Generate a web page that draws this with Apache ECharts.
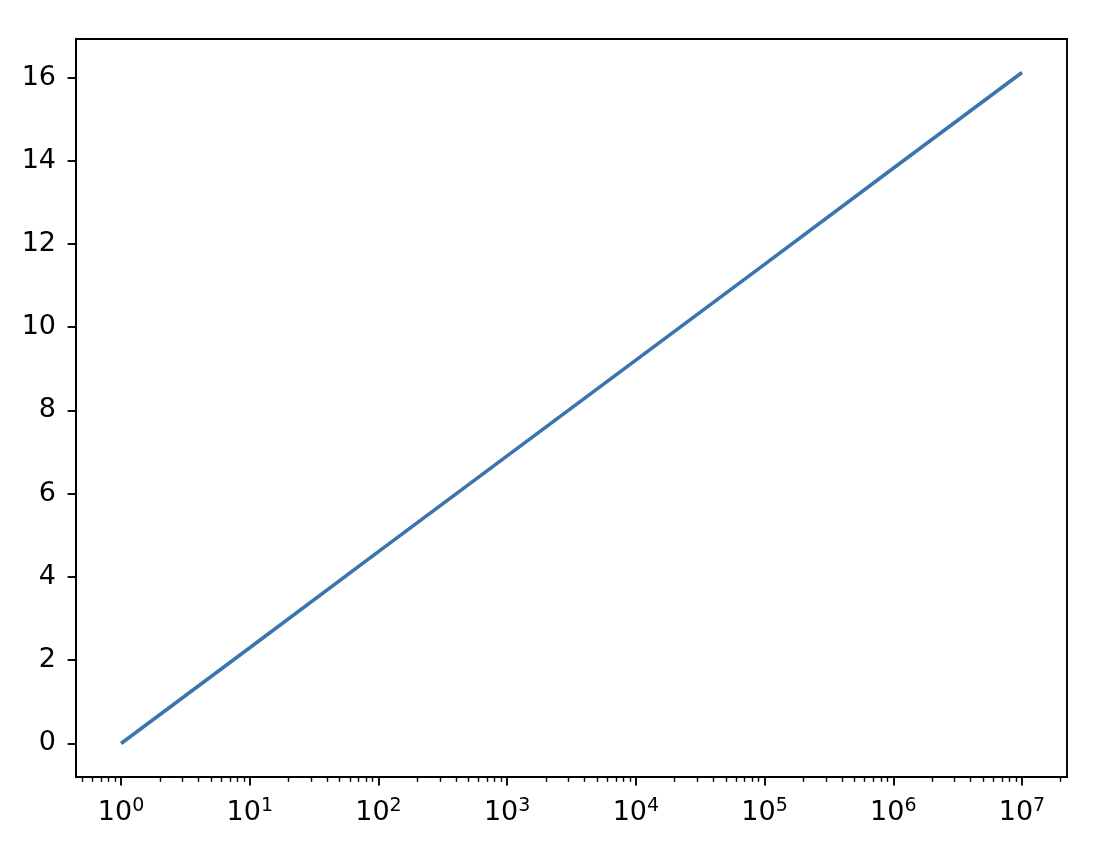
<!DOCTYPE html>
<html><head><meta charset="utf-8">
<script src="https://cdn.jsdelivr.net/npm/echarts@6/dist/echarts.min.js"></script>
<style>html,body{margin:0;padding:0;background:#fff}#c{width:1106px;height:858px}</style>
</head><body><div id="c"></div>
<script>
// x values (log scale) and y values
const xValues = [1, 10, 100, 1000, 10000, 100000, 1000000, 10000000];
const yValues = [0, 2.30, 4.61, 6.91, 9.21, 11.51, 13.82, 16.12];
const xTicks = [1, 10, 100, 1000, 10000, 100000, 1000000, 10000000];
const yTicks = [0, 2, 4, 6, 8, 10, 12, 14, 16];

const chart = echarts.init(document.getElementById('c'), null, {renderer: 'canvas'});
const font = 'DejaVu Sans';
chart.setOption({
  animation: false,
  backgroundColor: '#fff',
  grid: {left: 76, right: 39, top: 39, bottom: 81, show: true, borderColor: '#000', borderWidth: 1.9, containLabel: false},
  xAxis: {
    type: 'log', logBase: 10, min: 0.4467, max: 22387211, splitNumber: 7,
    axisLine: {show: true, onZero: false, lineStyle: {color: '#000', width: 1.9}},
    axisTick: {show: true, length: 8.4, customValues: xTicks, lineStyle: {color: '#000', width: 1.9}},
    minorTick: {show: true, splitNumber: 9, length: 4.8, lineStyle: {color: '#000', width: 1.4}},
    splitLine: {show: false},
    axisLabel: {
      showMinLabel: false, showMaxLabel: false, margin: 20,
      formatter: function (v) {
        const e = Math.round(Math.log10(v));
        return '{b|10}{s|' + e + '}';
      },
      rich: {
        b: {fontFamily: font, fontSize: 27, color: '#000'},
        s: {fontFamily: font, fontSize: 19, color: '#000', padding: [0, 0, 12, 0]}
      }
    }
  },
  yAxis: {
    type: 'value', min: -0.806, max: 16.925,
    axisLine: {show: true, lineStyle: {color: '#000', width: 1.9}},
    axisTick: {show: true, length: 8.4, customValues: yTicks, lineStyle: {color: '#000', width: 1.9}},
    splitLine: {show: false},
    axisLabel: {customValues: yTicks, margin: 20, fontFamily: font, fontSize: 27, color: '#000'}
  },
  series: [{
    type: 'line', data: xValues.map((x, i) => [x, yValues[i]]),
    showSymbol: false, symbol: 'none',
    lineStyle: {color: '#3b75af', width: 3.6}
  }]
});
</script></body></html>
